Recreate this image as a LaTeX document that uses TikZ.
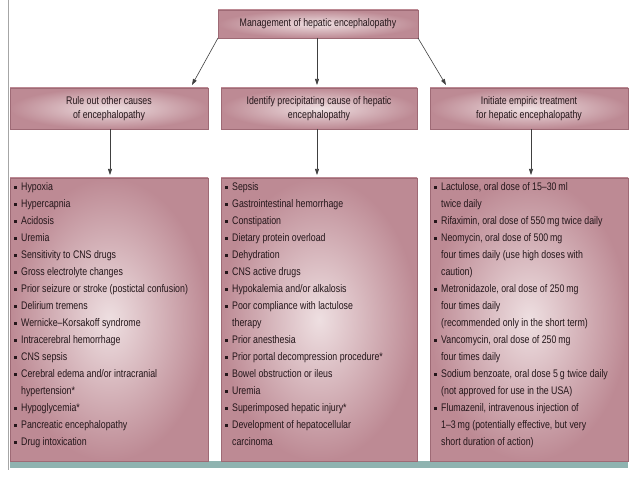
\documentclass[tikz,border=0pt]{standalone}
\usepackage{fontspec}
\setmainfont{Liberation Sans}[FakeStretch=0.80]
\usetikzlibrary{arrows.meta}
\definecolor{boxout}{HTML}{BD8A94}
\definecolor{boxin}{HTML}{EEDFE1}
\definecolor{boxedge}{HTML}{9E6A75}
\definecolor{txt}{HTML}{24161A}
\definecolor{teal}{HTML}{8FB3B0}
\newcommand{\bl}{\makebox[7pt][l]{\rule[1.5pt]{2.6pt}{2.6pt}}}
\newcommand{\ct}{\hspace*{7pt}}
\begin{document}
\begin{tikzpicture}[x=1pt,y=-1pt,
  pbox/.style={draw=boxedge,line width=0.4pt,inner color=boxin,outer color=boxout},
  arr/.style={-{Triangle[length=6pt,width=4pt]},draw=black!75,line width=0.6pt},
  lbl/.style={text=txt,font=\fontsize{11}{14}\selectfont,align=center},
  lst/.style={text=txt,font=\fontsize{11}{17}\selectfont,align=left,anchor=north west,inner sep=0pt}]
\useasboundingbox (0,0) rectangle (638,478);
\fill[white] (0,0) rectangle (638,478);
\draw[black!35,line width=0.6pt] (8,0) -- (8,470);
% teal bar
\fill[teal] (10,461) rectangle (628,468);
% top box
\draw[pbox] (218,10) rectangle (418,38);
\node[lbl] (top) at (318,24) {Management of hepatic encephalopathy};
\coordinate (tl) at (218,38); \coordinate (tc) at (317,38); \coordinate (tr) at (418,38);
% header boxes
\draw[pbox] (10,88) rectangle (208,129);
\draw[pbox] (221,88) rectangle (417,129);
\draw[pbox] (430,88) rectangle (628,129);
\node[lbl] (h1) at (109,108.5) {Rule out other causes\\of encephalopathy};
\node[lbl] (h2) at (319,108.5) {Identify precipitating cause of hepatic\\encephalopathy};
\node[lbl] (h3) at (529,108.5) {Initiate empiric treatment\\for hepatic encephalopathy};
\coordinate (h1t) at (192,85); \coordinate (h2t) at (317,85); \coordinate (h3t) at (446,85);
\draw[arr] (tl) -- (h1t);
\draw[arr] (tc) -- (h2t);
\draw[arr] (tr) -- (h3t);
% content boxes
\draw[pbox] (10,178) rectangle (208,461);
\draw[pbox] (221,178) rectangle (417,461);
\draw[pbox] (430,178) rectangle (628,461);
\coordinate (h1b) at (110,129); \coordinate (c1t) at (110,175);
\coordinate (h2b) at (317,129); \coordinate (c2t) at (317,175);
\coordinate (h3b) at (531,129); \coordinate (c3t) at (531,175);
\draw[arr] (h1b) -- (c1t);
\draw[arr] (h2b) -- (c2t);
\draw[arr] (h3b) -- (c3t);
\node[lst] (l1) at (14,182) {\bl Hypoxia\\\bl Hypercapnia\\\bl Acidosis\\\bl Uremia\\\bl Sensitivity to CNS drugs\\\bl Gross electrolyte changes\\\bl Prior seizure or stroke (postictal confusion)\\\bl Delirium tremens\\\bl Wernicke–Korsakoff syndrome\\\bl Intracerebral hemorrhage\\\bl CNS sepsis\\\bl Cerebral edema and/or intracranial\\\ct hypertension*\\\bl Hypoglycemia*\\\bl Pancreatic encephalopathy\\\bl Drug intoxication};
\node[lst] (l2) at (225,182) {\bl Sepsis\\\bl Gastrointestinal hemorrhage\\\bl Constipation\\\bl Dietary protein overload\\\bl Dehydration\\\bl CNS active drugs\\\bl Hypokalemia and/or alkalosis\\\bl Poor compliance with lactulose\\\ct therapy\\\bl Prior anesthesia\\\bl Prior portal decompression procedure*\\\bl Bowel obstruction or ileus\\\bl Uremia\\\bl Superimposed hepatic injury*\\\bl Development of hepatocellular\\\ct carcinoma};
\node[lst] (l3) at (434,182) {\bl Lactulose, oral dose of 15–30\,ml\\\ct twice daily\\\bl Rifaximin, oral dose of 550\,mg twice daily\\\bl Neomycin, oral dose of 500\,mg\\\ct four times daily (use high doses with\\\ct caution)\\\bl Metronidazole, oral dose of 250\,mg\\\ct four times daily\\\ct (recommended only in the short term)\\\bl Vancomycin, oral dose of 250\,mg\\\ct four times daily\\\bl Sodium benzoate, oral dose 5\,g twice daily\\\ct (not approved for use in the USA)\\\bl Flumazenil, intravenous injection of\\\ct 1–3\,mg (potentially effective, but very\\\ct short duration of action)};
\end{tikzpicture}
\end{document}
